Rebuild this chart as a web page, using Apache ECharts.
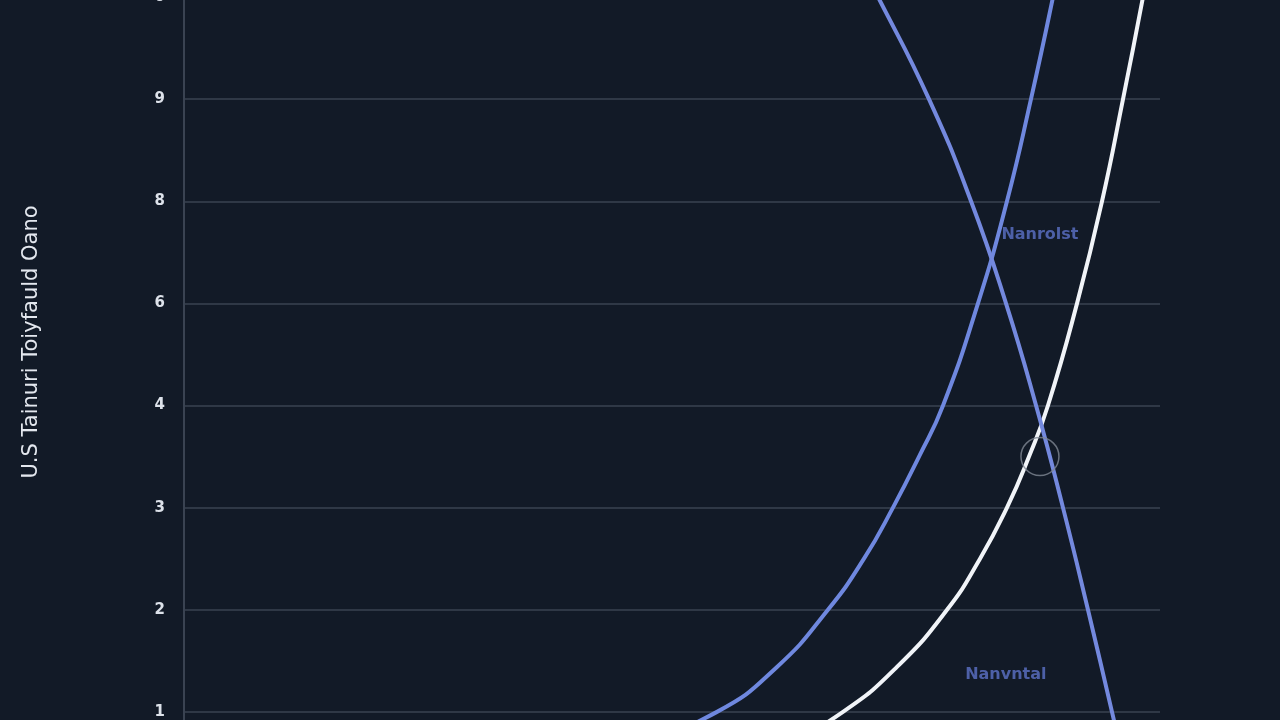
<!DOCTYPE html>
<html>
<head>
<meta charset="utf-8">
<script src="https://cdn.jsdelivr.net/npm/echarts@6/dist/echarts.min.js"></script>
<style>
html,body{margin:0;padding:0;background:#121a27;}
#chart{width:1280px;height:720px;}
</style>
</head>
<body>
<div id="chart"></div>
<script>
// Tick labels shown on the y axis (one per gridline, bottom to top)
const yTickLabels = ['1', '2', '3', '4', '6', '8', '9', '0'];
const yAxisTitle = 'U.S Tainuri Toiyfauld Oano';

// Rising blue curve [x, y]
const risingBlue = [
  [42.62, -0.5], [54.61, 0], [60.76, 0.44], [65.98, 1], [69.67, 1.5],
  [72.64, 2], [75.31, 2.5], [77.77, 3], [81.35, 4], [84.32, 5],
  [86.78, 6], [89.04, 7], [90.06, 7.5]
];
// Rising white curve [x, y]
const risingWhite = [
  [58.81, -0.5], [67.52, 0], [73.05, 0.44], [78.18, 1], [81.56, 1.5],
  [84.32, 2], [86.58, 2.5], [88.52, 3], [91.50, 4], [94.06, 5],
  [96.21, 6], [98.26, 7], [99.23, 7.5]
];
// Falling blue line [x, y]
const fallingBlue = [
  [68.34, 7.5], [71.11, 7], [76.33, 6], [80.64, 5], [84.22, 4],
  [87.30, 3], [90.06, 2], [92.62, 1], [95.08, 0], [96.31, -0.5]
];
// Highlight circle at the crossing
const crossingMark = [[87.7, 2.5]];
// Line labels [x, y, text]
const lineLabels = [
  [87.7, 4.67, 'Nanrolst'],
  [84.2, 0.36, 'Nanvntal']
];

const chart = echarts.init(document.getElementById('chart'));
chart.setOption({
  backgroundColor: '#121a27',
  animation: false,
  grid: { left: 184, right: 120, top: -3, bottom: -94, containLabel: false, outerBoundsMode: 'none' },
  xAxis: {
    type: 'value', min: 0, max: 100, show: false,
    splitLine: { show: false }
  },
  yAxis: {
    type: 'value', min: -1, max: 7, interval: 1,
    axisLine: { show: true, lineStyle: { color: '#3a4352', width: 2 } },
    axisTick: { show: false },
    splitLine: { show: true, lineStyle: { color: '#3a4352', width: 1.5 } },
    axisLabel: {
      color: '#dde2ea', fontSize: 15, fontWeight: 'bold', margin: 19,
      fontFamily: 'DejaVu Sans',
      formatter: function (v) { return v >= 0 ? (yTickLabels[v] || '') : ''; }
    }
  },
  graphic: [{
    type: 'text', x: 32, y: 342, rotation: Math.PI / 2,
    style: {
      text: yAxisTitle, fill: '#e3e7ee', fontSize: 21,
      fontFamily: 'DejaVu Sans', align: 'center', verticalAlign: 'middle'
    }
  }],
  series: [
    {
      type: 'line', data: risingBlue, smooth: 0.5, symbol: 'none',
      lineStyle: { color: '#6f88df', width: 4 }
    },
    {
      type: 'line', data: risingWhite, smooth: 0.5, symbol: 'none',
      lineStyle: { color: '#f1f4f8', width: 4 }
    },
    {
      type: 'line', data: fallingBlue, smooth: 0.5, symbol: 'none',
      lineStyle: { color: '#7489de', width: 4 }
    },
    {
      type: 'scatter', data: crossingMark, symbol: 'circle', symbolSize: 38,
      itemStyle: { color: 'rgba(0,0,0,0)', borderColor: '#7f8794', borderWidth: 1.5 },
      z: 5
    },
    {
      type: 'scatter', symbolSize: 0,
      data: lineLabels.map(d => ({ value: [d[0], d[1]], name: d[2] })),
      label: {
        show: true, position: 'inside', formatter: p => p.name,
        color: '#5d72c8', fontSize: 16, fontWeight: 'bold', fontFamily: 'DejaVu Sans'
      },
      z: 6
    }
  ]
});
</script>
</body>
</html>
